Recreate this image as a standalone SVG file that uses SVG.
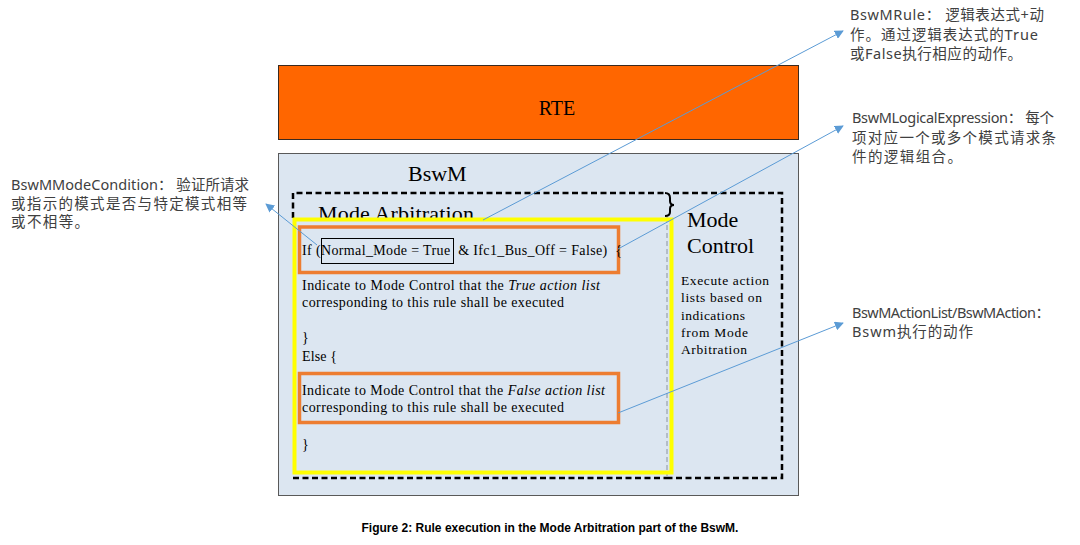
<svg xmlns="http://www.w3.org/2000/svg" width="1080" height="545" viewBox="0 0 1080 545">
<style>
.serif{font-family:"Liberation Serif","Times New Roman",serif;fill:#000}
.body{font-size:14px}
.note{font-family:"Noto Sans","Noto Sans CJK SC",sans-serif;font-size:14.5px;fill:#404040}
.dash{fill:none;stroke:#000;stroke-width:2.5;stroke-dasharray:6 3.5}
.ann{fill:none;stroke:#5B9BD5;stroke-width:1;marker-end:url(#arr)}
.orange{fill:none;stroke:#ED7D31;stroke-width:3.5}
</style>
<defs>
<marker id="arr" viewBox="0 0 10 10" refX="9" refY="5" markerWidth="9" markerHeight="9" markerUnits="userSpaceOnUse" orient="auto">
<path d="M0,0 L10,5 L0,10 z" fill="#5B9BD5"/>
</marker>
</defs>
<rect width="1080" height="545" fill="#fff"/>
<g id="rte">
<rect x="278.5" y="65.5" width="520" height="74" fill="#FF6600" stroke="#3a2a20" stroke-width="1"/>
<text class="serif" x="557" y="115" font-size="20" text-anchor="middle">RTE</text>
</g>
<g id="bswm">
<rect x="278.5" y="153.5" width="520" height="342" fill="#DCE6F1" stroke="#595959" stroke-width="1"/>
<text class="serif" x="408" y="181" font-size="22">BswM</text>
</g>
<g id="mode-arbitration">
<path class="dash" d="M293,218 L293,193 L666,193"/>
<path class="dash" d="M293,478 L668,478"/>
<path d="M665,193 Q670,193 670,198 L670,201 Q670,205 674,205 Q670,205 670,209 L670,212 Q670,216 665,216" fill="none" stroke="#000" stroke-width="2"/>
<text class="serif" x="318" y="221" font-size="22" textLength="156" lengthAdjust="spacing">Mode Arbitration</text>
</g>
<g id="mode-control">
<path class="dash" d="M673,193 L782,193 L782,478 L668,478"/>
<line x1="667" y1="217" x2="667" y2="476" stroke="#8a94a0" stroke-width="1" stroke-dasharray="5 3"/>
<text class="serif" x="687" y="227" font-size="22">Mode</text>
<text class="serif" x="687" y="253" font-size="22">Control</text>
<text class="serif" x="681" y="285" font-size="13.5" textLength="88" lengthAdjust="spacing">Execute action</text>
<text class="serif" x="681" y="302" font-size="13.5" textLength="81" lengthAdjust="spacing">lists based on</text>
<text class="serif" x="681" y="320" font-size="13.5" textLength="64" lengthAdjust="spacing">indications</text>
<text class="serif" x="681" y="337" font-size="13.5" textLength="67" lengthAdjust="spacing">from Mode</text>
<text class="serif" x="681" y="354" font-size="13.5" textLength="66" lengthAdjust="spacing">Arbitration</text>
</g>
<g id="rule">
<rect x="294.5" y="219.5" width="377" height="253" fill="none" stroke="#FFFF00" stroke-width="4"/>
<text class="serif body" x="302" y="290" textLength="298" lengthAdjust="spacing">Indicate to Mode Control that the <tspan font-style="italic">True action list</tspan></text>
<text class="serif body" x="302" y="307" textLength="262" lengthAdjust="spacing">corresponding to this rule shall be executed</text>
<text class="serif body" x="302" y="342">}</text>
<text class="serif body" x="302" y="361" textLength="35" lengthAdjust="spacing">Else {</text>
<text class="serif body" x="302" y="449">}</text>
</g>
<g id="logical-expression">
<rect x="299.5" y="227" width="319" height="45.5" class="orange"/>
<text class="serif body" x="302" y="255" textLength="320" lengthAdjust="spacing" xml:space="preserve">If (Normal_Mode = True  &amp; Ifc1_Bus_Off = False)  {</text>
</g>
<g id="mode-condition">
<rect x="321.5" y="238.5" width="132" height="25" fill="none" stroke="#000" stroke-width="1"/>
</g>
<g id="action-list">
<rect x="299.5" y="373.5" width="319" height="49" class="orange"/>
<text class="serif body" x="302" y="395" textLength="303" lengthAdjust="spacing">Indicate to Mode Control that the <tspan font-style="italic">False action list</tspan></text>
<text class="serif body" x="302" y="412" textLength="262" lengthAdjust="spacing">corresponding to this rule shall be executed</text>
</g>
<g id="connectors">
<line class="ann" x1="483" y1="220" x2="843" y2="31"/>
<line class="ann" x1="618" y1="249" x2="843" y2="126"/>
<line class="ann" x1="618" y1="413" x2="843" y2="323"/>
<line class="ann" x1="317" y1="245" x2="266" y2="204"/>
</g>
<g id="notes">
<text class="note" x="850" y="20" textLength="194" lengthAdjust="spacing">BswMRule： 逻辑表达式+动</text>
<text class="note" x="850" y="40" textLength="188" lengthAdjust="spacing">作。通过逻辑表达式的True</text>
<text class="note" x="850" y="59" textLength="172" lengthAdjust="spacing">或False执行相应的动作。</text>
<text class="note" x="852" y="123" textLength="202" lengthAdjust="spacing">BswMLogicalExpression： 每个</text>
<text class="note" x="852" y="143" textLength="204" lengthAdjust="spacing">项对应一个或多个模式请求条</text>
<text class="note" x="852" y="162" textLength="110" lengthAdjust="spacing">件的逻辑组合。</text>
<text class="note" x="852" y="318" textLength="198" lengthAdjust="spacing">BswMActionList/BswMAction：</text>
<text class="note" x="852" y="337" textLength="121" lengthAdjust="spacing">Bswm执行的动作</text>
<text class="note" x="11" y="190" textLength="238" lengthAdjust="spacing">BswMModeCondition： 验证所请求</text>
<text class="note" x="11" y="209" textLength="236" lengthAdjust="spacing">或指示的模式是否与特定模式相等</text>
<text class="note" x="11" y="227" textLength="78" lengthAdjust="spacing">或不相等。</text>
</g>
<text x="550" y="532" font-family="Liberation Sans, Arial, sans-serif" font-weight="bold" font-size="12" text-anchor="middle" fill="#000">Figure 2: Rule execution in the Mode Arbitration part of the BswM.</text>
</svg>
